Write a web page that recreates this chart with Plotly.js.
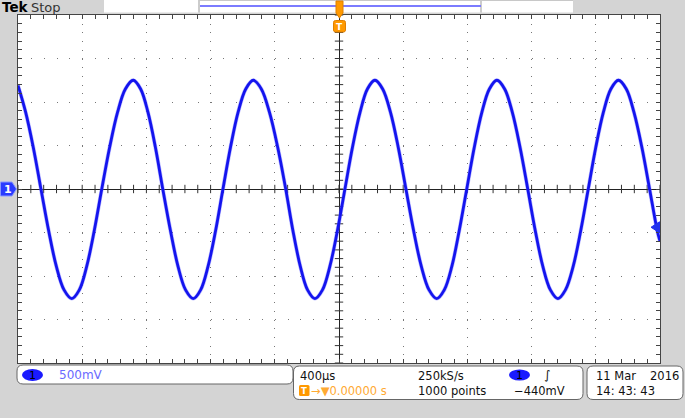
<!DOCTYPE html>
<html>
<head>
<meta charset="utf-8">
<script src="https://cdn.plot.ly/plotly-3.0.1.min.js"></script>
<style>
  html, body { margin: 0; padding: 0; background: #d4d4d4; }
  #chart { width: 685px; height: 418px; }
</style>
</head>
<body>
<div id="chart"></div>
<script>
// ---- Data (time in µs, voltage in V) ----
const timeUs = [-2000, -1952, -1905,
  -1857, -1809, -1761, -1713,
  -1665, -1618, -1572, -1525,
  -1478, -1429, -1380, -1331,
  -1282, -1236, -1190, -1144,
  -1098, -1050, -1003, -956,
  -908, -862, -816, -769,
  -723, -676, -629, -581,
  -534, -484, -433, -382,
  -332, -287, -241, -196,
  -150, -103, -57, -10,
  37, 84, 131, 177,
  224, 272, 321, 369,
  417, 465, 513, 561,
  609, 656, 703, 749,
  796, 843, 890, 937,
  984, 1032, 1080, 1128,
  1176, 1223, 1270, 1317,
  1364, 1411, 1459, 1506,
  1553, 1600, 1647, 1694,
  1741, 1790, 1838, 1887,
  1935, 1983, 2000];
const volts = [1.19, 0.88, 0.48,
  0.00, -0.48, -0.89, -1.16,
  -1.26, -1.16, -0.89, -0.48,
  0.00, 0.48, 0.88, 1.15,
  1.25, 1.15, 0.88, 0.48,
  0.00, -0.48, -0.89, -1.16,
  -1.26, -1.16, -0.89, -0.48,
  0.00, 0.48, 0.88, 1.15,
  1.25, 1.15, 0.88, 0.48,
  0.00, -0.48, -0.89, -1.16,
  -1.26, -1.16, -0.89, -0.48,
  0.00, 0.48, 0.88, 1.15,
  1.25, 1.15, 0.88, 0.48,
  0.00, -0.48, -0.89, -1.16,
  -1.26, -1.16, -0.89, -0.48,
  0.00, 0.48, 0.88, 1.15,
  1.25, 1.15, 0.88, 0.48,
  0.00, -0.48, -0.89, -1.16,
  -1.26, -1.16, -0.89, -0.48,
  0.00, 0.48, 0.88, 1.15,
  1.25, 1.15, 0.88, 0.48,
  0.00, -0.48, -0.60];

// Scope settings / readouts
const timeDivUs = 400;          // 400 µs/div
const voltDiv = 0.5;            // 500 mV/div
const hDivs = 10, vDivs = 8;
const triggerLevel = -0.44;     // V
const chLabel = "1";
const scaleText = "500mV";
const timebaseText = "400\u00b5s";
const sampleRateText = "250kS/s";
const pointsText = "1000 points";
const trigPosText = "\u2192\u25bc0.00000 s";
const trigLevelText = "\u2212440mV";
const dateText = "11 Mar";
const yearText = "2016";
const clockText = "14: 43: 43";

// ---- Geometry helpers (pixel -> paper) ----
const W = 685, H = 418;
const M = {l: 18, r: 25, t: 15, b: 55};
const PW = W - M.l - M.r, PH = H - M.t - M.b;
const px = x => (x - M.l) / PW;
const py = y => (H - M.b - y) / PH;

const xHalf = timeDivUs * hDivs / 2;
const yHalf = voltDiv * vDivs / 2;

// Center-cross tick marks (every 1/5 division)
const cxT = [], cyT = [], vxT = [], vyT = [];
for (let t = -xHalf; t <= xHalf + 1e-9; t += timeDivUs / 5) { cxT.push(t); cyT.push(0); }
for (let v = -yHalf; v <= yHalf + 1e-9; v += voltDiv / 5) { vxT.push(0); vyT.push(+v.toFixed(3)); }

const traces = [
  {x: cxT, y: cyT, mode: 'markers', hoverinfo: 'skip',
   marker: {symbol: 'line-ns-open', size: 6, color: '#333', line: {width: 1, color: '#333'}}},
  {x: vxT, y: vyT, mode: 'markers', hoverinfo: 'skip',
   marker: {symbol: 'line-ew-open', size: 6, color: '#333', line: {width: 1, color: '#333'}}},
  {x: timeUs, y: volts, mode: 'lines', hoverinfo: 'skip',
   line: {color: '#6a6aff', width: 4, shape: 'spline', smoothing: 1}, opacity: 0.45},
  {x: timeUs, y: volts, mode: 'lines', hoverinfo: 'skip',
   line: {color: '#1414ee', width: 2.8, shape: 'spline', smoothing: 1}}
];

function rrect(x0, y0, x1, y1, r) {
  const X0 = px(x0), X1 = px(x1), Y0 = py(y0), Y1 = py(y1);
  const rx = r / PW, ry = r / PH;
  return `M${X0 + rx},${Y0} L${X1 - rx},${Y0} Q${X1},${Y0} ${X1},${Y0 - ry} L${X1},${Y1 + ry} Q${X1},${Y1} ${X1 - rx},${Y1} L${X0 + rx},${Y1} Q${X0},${Y1} ${X0},${Y1 + ry} L${X0},${Y0 - ry} Q${X0},${Y0} ${X0 + rx},${Y0} Z`;
}
function poly(pts) {
  return 'M' + pts.map(p => px(p[0]) + ',' + py(p[1])).join(' L') + ' Z';
}
const P = {xref: 'paper', yref: 'paper'};

const trigY = (H - M.b) - (triggerLevel + yHalf) / (2 * yHalf) * PH;

const shapes = [
  // top strip
  {...P, type: 'rect', x0: px(104), x1: px(573), y0: py(0), y1: py(12.5), fillcolor: '#ffffff', line: {width: 0}, layer: 'above'},
  {...P, type: 'line', x0: px(199), x1: px(199), y0: py(0), y1: py(12.5), line: {color: '#999', width: 1}, layer: 'above'},
  {...P, type: 'line', x0: px(481), x1: px(481), y0: py(0), y1: py(12.5), line: {color: '#999', width: 1}, layer: 'above'},
  {...P, type: 'line', x0: px(199), x1: px(573), y0: py(0.5), y1: py(0.5), line: {color: '#c8c8c8', width: 1}, layer: 'above'},
  {...P, type: 'line', x0: px(200), x1: px(481), y0: py(6), y1: py(6), line: {color: '#7b7bff', width: 2}, layer: 'above'},
  // trigger position pointer (top)
  {...P, type: 'path', path: poly([[336, 1], [343, 1], [343, 13], [339.5, 18], [336, 13]]), fillcolor: '#ff9900', line: {color: '#e08000', width: 1}, layer: 'above'},
  {...P, type: 'path', path: rrect(333.5, 20.5, 345.5, 32, 2), fillcolor: '#ff9900', line: {color: '#e08000', width: 1}, layer: 'above'},
  // channel 1 ground marker (left)
  {...P, type: 'path', path: poly([[0.5, 182], [12, 182], [16.5, 189], [12, 196], [0.5, 196]]), fillcolor: '#2a3cff', line: {color: '#8898ff', width: 1}, layer: 'above'},
  // trigger level marker (right)
  {...P, type: 'path', path: poly([[659.5, trigY - 5.5], [651, trigY], [659.5, trigY + 5.5]]), fillcolor: '#2233ee', line: {color: '#2233ee', width: 1}, layer: 'above'},
  // bottom status boxes
  {...P, type: 'path', path: rrect(17, 365, 293, 384, 6), fillcolor: '#ffffff', line: {color: '#666', width: 1}},
  {...P, type: 'path', path: rrect(293.5, 366, 583, 399.5, 6), fillcolor: '#ffffff', line: {color: '#666', width: 1}},
  {...P, type: 'path', path: rrect(587, 366, 683, 399.5, 6), fillcolor: '#ffffff', line: {color: '#666', width: 1}},
  {...P, type: 'circle', x0: px(22), x1: px(43), y0: py(369), y1: py(381), fillcolor: '#1a1aff', line: {width: 0}},
  {...P, type: 'circle', x0: px(509), x1: px(530), y0: py(369.5), y1: py(380.5), fillcolor: '#1a1aff', line: {width: 0}},
  {...P, type: 'path', path: rrect(299, 385, 309.5, 396, 1.5), fillcolor: '#ff9900', line: {width: 0}}
];

const F = 'DejaVu Sans, sans-serif';
function ann(text, x, y, size, color, anchor, extra) {
  return Object.assign({...P, text: text, x: px(x), y: py(y), showarrow: false,
    xanchor: anchor || 'left', yanchor: 'middle', font: {family: F, size: size, color: color}}, extra || {});
}
const annotations = [
  ann('<b>Tek</b>', 0.5, 7, 13.5, '#000', 'left', {borderpad: 0}),
  ann('Stop', 29, 7, 13, '#333'),
  ann('<b>T</b>', 339.5, 26.5, 9, '#ffffff', 'center'),
  ann('<b>' + chLabel + '</b>', 7.5, 189, 11, '#ffffff', 'center'),
  ann(chLabel, 32.5, 375, 11, '#000', 'center'),
  ann(scaleText, 57, 375, 12, '#6a6aff'),
  ann(timebaseText, 298, 376, 11.5, '#111'),
  ann(sampleRateText, 416, 376, 11.5, '#111'),
  ann('<b>T</b>', 304.3, 390.5, 8.5, '#ffffff', 'center'),
  ann(trigPosText, 309, 391, 11.5, '#ffaa33'),
  ann(pointsText, 416, 391, 11.5, '#111'),
  ann(chLabel, 519.5, 375, 11, '#000', 'center'),
  ann('\u222b', 547, 375, 12, '#111', 'center'),
  ann(trigLevelText, 512, 391, 11.5, '#111'),
  ann(dateText, 594, 376, 11.5, '#111'),
  ann(yearText, 681, 376, 11.5, '#111', 'right'),
  ann(clockText, 594, 391, 11.5, '#111')
];

const layout = {
  width: W, height: H,
  margin: {l: M.l, r: M.r, t: M.t, b: M.b, pad: 0},
  paper_bgcolor: '#d4d4d4', plot_bgcolor: '#ffffff',
  showlegend: false, hovermode: false,
  font: {family: F},
  xaxis: {
    range: [-xHalf, xHalf], fixedrange: true, showticklabels: false,
    tick0: 0, dtick: timeDivUs, ticks: 'inside', ticklen: 4, tickcolor: '#444', tickwidth: 1,
    showline: true, linecolor: '#444', linewidth: 1, mirror: 'ticks',
    showgrid: true, gridcolor: '#777', gridwidth: 1, griddash: '1px,' + (PH / 40 - 1).toFixed(3) + 'px',
    zeroline: true, zerolinecolor: '#222', zerolinewidth: 1,
    minor: {tick0: 0, dtick: timeDivUs / 5, ticks: 'inside', ticklen: 4, tickcolor: '#444', showgrid: false}
  },
  yaxis: {
    range: [-yHalf, yHalf], fixedrange: true, showticklabels: false,
    tick0: 0, dtick: voltDiv, ticks: 'inside', ticklen: 4, tickcolor: '#444', tickwidth: 1,
    showline: true, linecolor: '#444', linewidth: 1, mirror: 'ticks',
    showgrid: true, gridcolor: '#777', gridwidth: 1, griddash: '1px,' + (PW / 50 - 1).toFixed(3) + 'px',
    zeroline: true, zerolinecolor: '#222', zerolinewidth: 1,
    minor: {tick0: 0, dtick: voltDiv / 5, ticks: 'inside', ticklen: 4, tickcolor: '#444', showgrid: false}
  },
  shapes: shapes,
  annotations: annotations
};

Plotly.newPlot('chart', traces, layout, {displayModeBar: false, staticPlot: true});
</script>
</body>
</html>
